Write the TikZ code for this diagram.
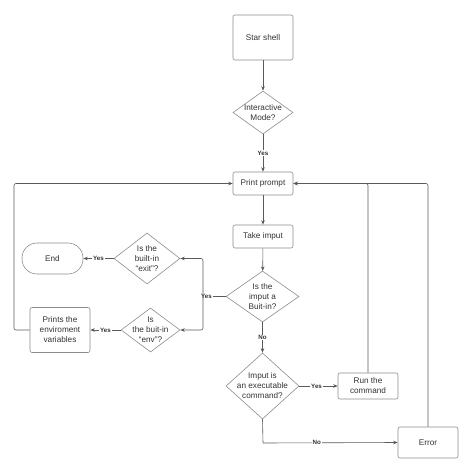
\documentclass[tikz,border=0pt]{standalone}
\usepackage{fontspec}
\setmainfont{Liberation Sans}
\usetikzlibrary{shapes.geometric,arrows.meta}
\definecolor{ln}{HTML}{5A5A5A}
\definecolor{bd}{HTML}{8C8C8C}
\definecolor{tx}{HTML}{333333}
\begin{document}
\begin{tikzpicture}[x=1pt,y=-1pt,
  every node/.style={text=tx},
  txt/.style={font=\fontsize{8.2}{10}\selectfont,align=center},
  procbox/.style={draw=bd,line width=0.6pt,rounded corners=2pt,txt,inner sep=0pt},
  decision/.style={draw=bd,line width=0.6pt,diamond,inner sep=0pt,aspect=1.4},
  pill/.style={draw=bd,line width=0.6pt,rounded corners=15pt,txt,inner sep=0pt},
  conn/.style={draw=ln,line width=0.6pt,-{Stealth[length=4.5pt,width=3.5pt]}},
  plain/.style={draw=ln,line width=0.6pt},
  lbl/.style={fill=white,inner sep=0.8pt,font=\fontsize{6.2}{7}\selectfont\bfseries,text=tx}
]
\useasboundingbox (0,0) rectangle (474,473);
% nodes
\node[procbox,minimum width=60pt,minimum height=45pt] (star) at (263,37.5) {Star shell};
\node[decision,minimum width=60pt,minimum height=43pt,label={[txt]center:Interactive\\Mode?}] (inter) at (263,112.5) {};
\node[procbox,minimum width=60pt,minimum height=23pt] (pp) at (263,183.5) {Print prompt};
\node[procbox,minimum width=60pt,minimum height=23pt] (take) at (263,236.5) {Take imput};
\node[decision,minimum width=73pt,minimum height=51pt,label={[txt]center:Is the\\imput a\\Buit-in?}] (bi) at (262.5,296.5) {};
\node[decision,minimum width=66pt,minimum height=51pt,label={[txt]center:Is the\\built-in\\“exit”?}] (exit) at (147,258.5) {};
\node[pill,minimum width=61pt,minimum height=31pt] (end) at (52.5,258.5) {End};
\node[decision,minimum width=59pt,minimum height=44pt,label={[txt]center:Is\\the buit-in\\“env”?}] (env) at (150.5,330) {};
\node[procbox,minimum width=60pt,minimum height=45pt] (prints) at (60,330) {Prints the\\enviroment\\variables};
\node[decision,minimum width=73pt,minimum height=66pt,label={[txt]center:Imput is\\an executable\\command?}] (exec) at (262.5,386) {};
\node[procbox,minimum width=60pt,minimum height=26pt] (run) at (368,386) {Run the\\command};
\node[procbox,minimum width=60pt,minimum height=31pt] (err) at (428,442.5) {Error};
\coordinate (jn) at (203,296.5);
\coordinate (lft) at (14,330);
\coordinate (bot) at (263,443);
% connectors
\draw[conn] (star) -- (inter);
\draw[conn] (inter) -- node[lbl,pos=0.5]{Yes} (pp);
\draw[conn] (pp) -- (take);
\draw[conn] (take) -- (bi);
\draw[plain] (bi.west) -- node[lbl,pos=0.85]{Yes} (jn);
\draw[conn,rounded corners=2pt] (jn) |- (exit.east);
\draw[conn,rounded corners=2pt] (jn) |- (env.east);
\draw[conn] (exit.west) -- node[lbl,pos=0.5]{Yes} (end.east);
\draw[conn] (env.west) -- node[lbl,pos=0.5]{Yes} (prints.east);
\draw[conn,rounded corners=2pt] (prints.west) -- (lft) |- (pp.west);
\draw[conn] (bi.south) -- node[lbl,pos=0.5]{No} (exec.north);
\draw[conn] (exec.east) -- node[lbl,pos=0.45]{Yes} (run.west);
\draw[plain,rounded corners=2pt] (exec.south) -- (bot);
\draw[conn] (bot) -- node[lbl,pos=0.4]{No} (err.west);
\draw[conn,rounded corners=2pt] (run.north) |- (pp.east);
\draw[conn,rounded corners=2pt] (err.north) |- (pp.east);
\end{tikzpicture}
\end{document}
